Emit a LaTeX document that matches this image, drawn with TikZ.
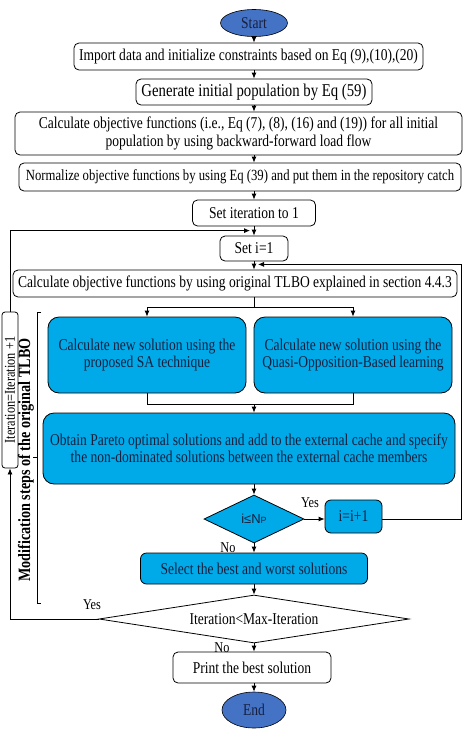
\documentclass[tikz,border=0pt]{standalone}
\usepackage{fontspec}
\setmainfont{Liberation Serif}[FakeStretch=0.82]
\newfontfamily\arialfont{Liberation Sans}
\usetikzlibrary{arrows.meta, positioning, calc, shapes.geometric}
\definecolor{cyanbox}{HTML}{00A9E8}
\definecolor{termblue}{HTML}{4472C4}
\definecolor{navytext}{HTML}{17203F}

\begin{document}
\begin{tikzpicture}[x=1pt, y=-1pt,
    every node/.style={font=\fontsize{16.5}{17.5}\selectfont, inner sep=0pt, align=center},
    whitebox/.style={draw, rounded corners=5pt, fill=white, line width=0.8pt},
    bluebox/.style={draw, rounded corners=11pt, fill=cyanbox, text=navytext, line width=0.8pt},
    term/.style={ellipse, draw, fill=termblue, text=navytext, line width=0.6pt},
    decision/.style={diamond, draw, line width=0.8pt},
    flow/.style={-{Latex[length=6pt,width=5pt]}, line width=0.8pt},
    line/.style={line width=0.8pt},
    lbl/.style={font=\fontsize{15}{15}\selectfont}]
\useasboundingbox (0,0) rectangle (474,732);

% main column
\node[term, minimum width=67pt, minimum height=27pt] (start) at (254,23) {Start};
\node[whitebox, minimum width=349pt, minimum height=27pt] (imp) at (248.5,56.5)
    {Import data and initialize constraints based on Eq (9),(10),(20)};
\node[whitebox, minimum width=236pt, minimum height=26pt, font=\fontsize{18}{18}\selectfont] (gen) at (254,92)
    {Generate initial population by Eq (59)};
\node[whitebox, minimum width=447pt, minimum height=43pt] (calc) at (238.5,133.5)
    {Calculate objective functions (i.e., Eq (7), (8), (16) and (19)) for all initial\\
     population by using backward-forward load flow};
\node[whitebox, minimum width=442pt, minimum height=28pt, font=\fontsize{15.5}{16}\selectfont] (norm) at (240,177)
    {Normalize objective functions by using Eq (39) and put them in the repository catch};
\node[whitebox, minimum width=123pt, minimum height=26pt] (setit) at (254,213) {Set iteration to 1};
\node[whitebox, minimum width=68pt, minimum height=25pt] (seti) at (254,248.5) {Set i=1};
\node[whitebox, minimum width=444pt, minimum height=27pt] (tlbo) at (235,283.5)
    {Calculate objective functions by using original TLBO explained in section 4.4.3};
\node[bluebox, minimum width=198pt, minimum height=76pt] (sa) at (147,355)
    {Calculate new solution using the\\ proposed SA technique};
\node[bluebox, minimum width=198pt, minimum height=76pt] (qobl) at (353,355)
    {Calculate new solution using the\\ Quasi-Opposition-Based learning};
\node[bluebox, minimum width=412pt, minimum height=71pt] (pareto) at (249,448.5)
    {Obtain Pareto optimal solutions and add to the external cache and specify\\
     the non-dominated solutions between the external cache members};
\node[decision, aspect=2.1, fill=cyanbox, text=navytext, minimum width=100pt, minimum height=48pt,
    font=\arialfont\fontsize{13}{13}\selectfont] (dec1) at (254,519)
    {i≤N{\fontsize{9}{9}\selectfont P}};
\node[bluebox, rounded corners=6pt, minimum width=57pt, minimum height=33pt] (inc) at (353.5,516.5) {i=i+1};
\node[bluebox, rounded corners=6pt, minimum width=227pt, minimum height=31pt] (sel) at (254,568.5)
    {Select the best and worst solutions};
\node[decision, aspect=6.5, fill=white, minimum width=310pt, minimum height=48pt] (dec2) at (254,619)
    {Iteration<Max-Iteration};
\node[whitebox, minimum width=158pt, minimum height=31pt] (prt) at (252,667.5) {Print the best solution};
\node[term, minimum width=64pt, minimum height=36pt] (fin) at (254,710) {End};

% left side
\node[whitebox, rounded corners=3pt, minimum width=16pt, minimum height=156pt] (iter) at (10,390) {};
\node[rotate=90, font=\fontsize{15}{15}\selectfont] (iterlbl) at (iter.center) {Iteration=Iteration +1};
\draw[line] (41,312) -- (37,312) -- (37,603) -- (41,603);
\draw[line] (37,457) -- (33,457);
\node[rotate=90, font=\bfseries\fontsize{17.3}{17}\selectfont] (modlbl) at (26,460)
    {Modification steps of the original TLBO};

% labels
\node[lbl] (yes1) at (310,503) {Yes};
\node[lbl] (no1) at (228,548) {No};
\node[lbl] (yes2) at (92,605) {Yes};
\node[lbl] (no2) at (222,648) {No};

% connectors
\draw[flow] (start.south) -- (start.south |- imp.north);
\draw[flow] (gen.north |- imp.south) -- (gen.north);
\draw[flow] (gen.south) -- (gen.south |- calc.north);
\draw[flow] (gen.south |- calc.south) -- (gen.south |- norm.north);
\draw[flow] (setit.north |- norm.south) -- (setit.north);
\draw[flow] (setit.south) -- (seti.north);
\draw[flow] (seti.south) -- (seti.south |- tlbo.north);
\draw[line] (seti.south |- tlbo.south) -- ++(0,10) coordinate (split);
\draw[flow] (split) -| (sa.north);
\draw[flow] (split) -| (qobl.north);
\coordinate (mrg) at ($(seti.south |- pareto.north)+(0,-8)$);
\draw[line] (sa.south) |- (mrg) -| (qobl.south);
\draw[flow] (mrg) -- (mrg |- pareto.north);
\draw[flow] (dec1.north |- pareto.south) -- (dec1.north);
\draw[flow] (dec1.east) -- (dec1.east -| inc.west);
\draw[flow] (dec1.south) -- (sel.north);
\draw[flow] (sel.south) -- (dec2.north);
\draw[flow] (dec2.south) -- (dec2.south |- prt.north);
\draw[flow] (fin.north |- prt.south) -- (fin.north);
% loops
\draw[flow] (inc.east |- dec1.east) -- ++(79,0) |- ($(seti.south)+(4,3)$);
\draw[flow] (dec2.west) -| (iter.south);
\draw[flow] (iter.north) |- ($(seti.north)+(-4,-5)$);
\end{tikzpicture}
\end{document}
